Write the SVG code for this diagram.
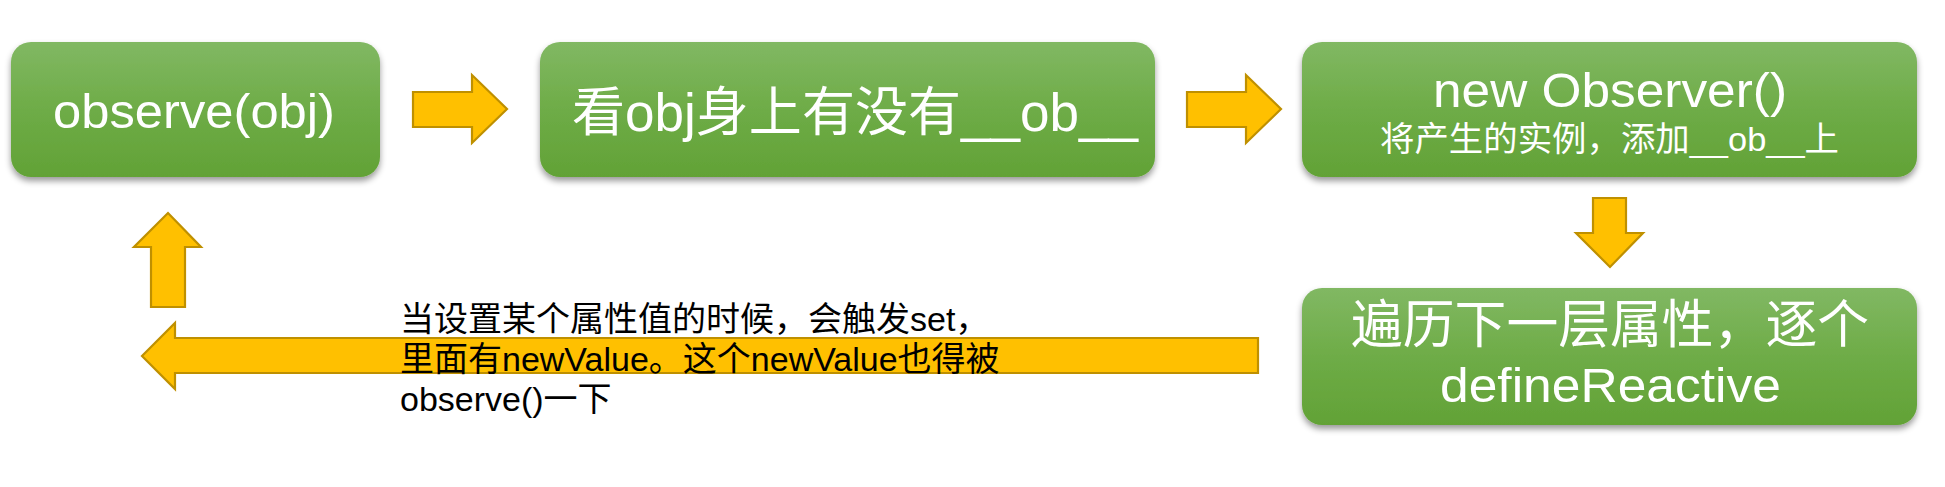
<svg xmlns="http://www.w3.org/2000/svg" width="1945" height="487" viewBox="0 0 1945 487">
<style>
.box{fill:url(#g);filter:url(#sh)}
.arr{fill:#FFC000;stroke:#BF9000;stroke-width:2.2;stroke-linejoin:miter}
.t{font-family:"Liberation Sans","Noto Sans CJK SC",sans-serif;fill:#fff}
.n{font-family:"Liberation Sans","Noto Sans CJK SC",sans-serif;fill:#000;font-size:34px}
</style>
<defs>
<linearGradient id="g" x1="0" y1="0" x2="0" y2="1">
<stop offset="0" stop-color="#81b863"/>
<stop offset="0.5" stop-color="#6eac47"/>
<stop offset="1" stop-color="#62a236"/>
</linearGradient>
<filter id="sh" x="-5%" y="-10%" width="110%" height="130%">
<feDropShadow dx="0" dy="4" stdDeviation="3" flood-color="#000" flood-opacity="0.4"/>
</filter>
</defs>
<g id="connectors">
<polygon class="arr" points="413,92 472,92 472,75 507,109 472,143 472,127 413,127"/>
<polygon class="arr" points="1187,92 1246,92 1246,75 1281,109 1246,143 1246,127 1187,127"/>
<polygon class="arr" points="1593,198 1626,198 1626,233 1643,233 1610,267 1576,233 1593,233"/>
<polygon class="arr" points="151,307 151,247 134,247 168,213 201,247 185,247 185,307"/>
<polygon class="arr" points="1258,338 175,338 175,323 142,356 175,389 175,373 1258,373"/>
</g>
<g id="node-observe">
<rect class="box" x="11" y="42" width="369" height="135" rx="20"/>
<text class="t" x="53" y="128" font-size="49" textLength="282" lengthAdjust="spacingAndGlyphs">observe(obj)</text>
</g>
<g id="node-check">
<rect class="box" x="540" y="42" width="615" height="135" rx="20"/>
<text class="t" x="572" y="131" font-size="53" textLength="566" lengthAdjust="spacingAndGlyphs">看obj身上有没有__ob__</text>
</g>
<g id="node-new">
<rect class="box" x="1302" y="42" width="615" height="135" rx="20"/>
<text class="t" x="1433" y="107" font-size="49" textLength="354" lengthAdjust="spacingAndGlyphs">new Observer()</text>
<text class="t" x="1380" y="151" font-size="34" textLength="459" lengthAdjust="spacingAndGlyphs">将产生的实例，添加__ob__上</text>
</g>
<g id="node-define">
<rect class="box" x="1302" y="288" width="615" height="137" rx="20"/>
<text class="t" x="1351" y="343" font-size="52" textLength="518" lengthAdjust="spacingAndGlyphs">遍历下一层属性，逐个</text>
<text class="t" x="1440" y="402" font-size="49" textLength="341" lengthAdjust="spacingAndGlyphs">defineReactive</text>
</g>
<g id="note">
<text class="n" x="400" y="331">当设置某个属性值的时候，会触发set，</text>
<text class="n" x="400" y="371">里面有newValue。这个newValue也得被</text>
<text class="n" x="400" y="411">observe()一下</text>
</g>
</svg>
